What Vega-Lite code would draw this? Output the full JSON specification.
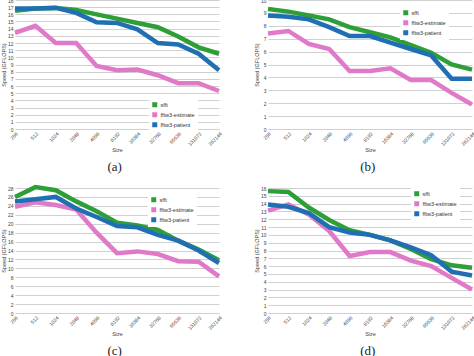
{
  "$schema": "https://vega.github.io/schema/vega-lite/v6.json",
  "background": "white",
  "padding": {"left": 1, "top": -2, "right": 0, "bottom": 0},
  "data": {"values": [
    {"p":"a","s":"sfft","x":256,"y":16.5},{"p":"a","s":"sfft","x":512,"y":16.8},{"p":"a","s":"sfft","x":1024,"y":16.9},{"p":"a","s":"sfft","x":2048,"y":16.6},{"p":"a","s":"sfft","x":4096,"y":16.0},{"p":"a","s":"sfft","x":8192,"y":15.4},{"p":"a","s":"sfft","x":16384,"y":14.8},{"p":"a","s":"sfft","x":32768,"y":14.2},{"p":"a","s":"sfft","x":65536,"y":12.9},{"p":"a","s":"sfft","x":131072,"y":11.4},{"p":"a","s":"sfft","x":262144,"y":10.5},
    {"p":"a","s":"fftw3-estimate","x":256,"y":13.4},{"p":"a","s":"fftw3-estimate","x":512,"y":14.4},{"p":"a","s":"fftw3-estimate","x":1024,"y":12.0},{"p":"a","s":"fftw3-estimate","x":2048,"y":12.0},{"p":"a","s":"fftw3-estimate","x":4096,"y":8.8},{"p":"a","s":"fftw3-estimate","x":8192,"y":8.2},{"p":"a","s":"fftw3-estimate","x":16384,"y":8.3},{"p":"a","s":"fftw3-estimate","x":32768,"y":7.5},{"p":"a","s":"fftw3-estimate","x":65536,"y":6.4},{"p":"a","s":"fftw3-estimate","x":131072,"y":6.4},{"p":"a","s":"fftw3-estimate","x":262144,"y":5.3},
    {"p":"a","s":"fftw3-patient","x":256,"y":16.8},{"p":"a","s":"fftw3-patient","x":512,"y":16.8},{"p":"a","s":"fftw3-patient","x":1024,"y":16.9},{"p":"a","s":"fftw3-patient","x":2048,"y":16.2},{"p":"a","s":"fftw3-patient","x":4096,"y":14.9},{"p":"a","s":"fftw3-patient","x":8192,"y":14.8},{"p":"a","s":"fftw3-patient","x":16384,"y":13.9},{"p":"a","s":"fftw3-patient","x":32768,"y":12.0},{"p":"a","s":"fftw3-patient","x":65536,"y":11.8},{"p":"a","s":"fftw3-patient","x":131072,"y":10.5},{"p":"a","s":"fftw3-patient","x":262144,"y":8.2},
    {"p":"b","s":"sfft","x":256,"y":9.3},{"p":"b","s":"sfft","x":512,"y":9.1},{"p":"b","s":"sfft","x":1024,"y":8.8},{"p":"b","s":"sfft","x":2048,"y":8.5},{"p":"b","s":"sfft","x":4096,"y":7.9},{"p":"b","s":"sfft","x":8192,"y":7.5},{"p":"b","s":"sfft","x":16384,"y":7.1},{"p":"b","s":"sfft","x":32768,"y":6.5},{"p":"b","s":"sfft","x":65536,"y":5.9},{"p":"b","s":"sfft","x":131072,"y":5.0},{"p":"b","s":"sfft","x":262144,"y":4.6},
    {"p":"b","s":"fftw3-estimate","x":256,"y":7.4},{"p":"b","s":"fftw3-estimate","x":512,"y":7.6},{"p":"b","s":"fftw3-estimate","x":1024,"y":6.6},{"p":"b","s":"fftw3-estimate","x":2048,"y":6.2},{"p":"b","s":"fftw3-estimate","x":4096,"y":4.5},{"p":"b","s":"fftw3-estimate","x":8192,"y":4.5},{"p":"b","s":"fftw3-estimate","x":16384,"y":4.7},{"p":"b","s":"fftw3-estimate","x":32768,"y":3.8},{"p":"b","s":"fftw3-estimate","x":65536,"y":3.8},{"p":"b","s":"fftw3-estimate","x":131072,"y":2.8},{"p":"b","s":"fftw3-estimate","x":262144,"y":1.9},
    {"p":"b","s":"fftw3-patient","x":256,"y":8.8},{"p":"b","s":"fftw3-patient","x":512,"y":8.7},{"p":"b","s":"fftw3-patient","x":1024,"y":8.5},{"p":"b","s":"fftw3-patient","x":2048,"y":7.9},{"p":"b","s":"fftw3-patient","x":4096,"y":7.2},{"p":"b","s":"fftw3-patient","x":8192,"y":7.2},{"p":"b","s":"fftw3-patient","x":16384,"y":6.7},{"p":"b","s":"fftw3-patient","x":32768,"y":6.2},{"p":"b","s":"fftw3-patient","x":65536,"y":5.7},{"p":"b","s":"fftw3-patient","x":131072,"y":3.9},{"p":"b","s":"fftw3-patient","x":262144,"y":3.9},
    {"p":"c","s":"sfft","x":256,"y":26.0},{"p":"c","s":"sfft","x":512,"y":28.2},{"p":"c","s":"sfft","x":1024,"y":27.5},{"p":"c","s":"sfft","x":2048,"y":25.0},{"p":"c","s":"sfft","x":4096,"y":22.8},{"p":"c","s":"sfft","x":8192,"y":20.2},{"p":"c","s":"sfft","x":16384,"y":19.6},{"p":"c","s":"sfft","x":32768,"y":18.6},{"p":"c","s":"sfft","x":65536,"y":16.2},{"p":"c","s":"sfft","x":131072,"y":14.2},{"p":"c","s":"sfft","x":262144,"y":11.8},
    {"p":"c","s":"fftw3-estimate","x":256,"y":23.8},{"p":"c","s":"fftw3-estimate","x":512,"y":24.8},{"p":"c","s":"fftw3-estimate","x":1024,"y":24.2},{"p":"c","s":"fftw3-estimate","x":2048,"y":23.2},{"p":"c","s":"fftw3-estimate","x":4096,"y":18.0},{"p":"c","s":"fftw3-estimate","x":8192,"y":13.4},{"p":"c","s":"fftw3-estimate","x":16384,"y":13.8},{"p":"c","s":"fftw3-estimate","x":32768,"y":13.2},{"p":"c","s":"fftw3-estimate","x":65536,"y":11.6},{"p":"c","s":"fftw3-estimate","x":131072,"y":11.5},{"p":"c","s":"fftw3-estimate","x":262144,"y":8.2},
    {"p":"c","s":"fftw3-patient","x":256,"y":25.0},{"p":"c","s":"fftw3-patient","x":512,"y":25.5},{"p":"c","s":"fftw3-patient","x":1024,"y":26.0},{"p":"c","s":"fftw3-patient","x":2048,"y":23.4},{"p":"c","s":"fftw3-patient","x":4096,"y":21.5},{"p":"c","s":"fftw3-patient","x":8192,"y":19.5},{"p":"c","s":"fftw3-patient","x":16384,"y":19.2},{"p":"c","s":"fftw3-patient","x":32768,"y":17.5},{"p":"c","s":"fftw3-patient","x":65536,"y":16.2},{"p":"c","s":"fftw3-patient","x":131072,"y":14.0},{"p":"c","s":"fftw3-patient","x":262144,"y":11.2},
    {"p":"d","s":"sfft","x":256,"y":15.6},{"p":"d","s":"sfft","x":512,"y":15.5},{"p":"d","s":"sfft","x":1024,"y":13.5},{"p":"d","s":"sfft","x":2048,"y":11.9},{"p":"d","s":"sfft","x":4096,"y":10.6},{"p":"d","s":"sfft","x":8192,"y":10.0},{"p":"d","s":"sfft","x":16384,"y":9.3},{"p":"d","s":"sfft","x":32768,"y":8.2},{"p":"d","s":"sfft","x":65536,"y":6.9},{"p":"d","s":"sfft","x":131072,"y":6.1},{"p":"d","s":"sfft","x":262144,"y":5.8},
    {"p":"d","s":"fftw3-estimate","x":256,"y":13.1},{"p":"d","s":"fftw3-estimate","x":512,"y":13.9},{"p":"d","s":"fftw3-estimate","x":1024,"y":12.6},{"p":"d","s":"fftw3-estimate","x":2048,"y":10.5},{"p":"d","s":"fftw3-estimate","x":4096,"y":7.3},{"p":"d","s":"fftw3-estimate","x":8192,"y":7.8},{"p":"d","s":"fftw3-estimate","x":16384,"y":7.8},{"p":"d","s":"fftw3-estimate","x":32768,"y":6.7},{"p":"d","s":"fftw3-estimate","x":65536,"y":6.0},{"p":"d","s":"fftw3-estimate","x":131072,"y":4.5},{"p":"d","s":"fftw3-estimate","x":262144,"y":3.0},
    {"p":"d","s":"fftw3-patient","x":256,"y":13.9},{"p":"d","s":"fftw3-patient","x":512,"y":13.6},{"p":"d","s":"fftw3-patient","x":1024,"y":12.8},{"p":"d","s":"fftw3-patient","x":2048,"y":11.0},{"p":"d","s":"fftw3-patient","x":4096,"y":10.3},{"p":"d","s":"fftw3-patient","x":8192,"y":10.0},{"p":"d","s":"fftw3-patient","x":16384,"y":9.3},{"p":"d","s":"fftw3-patient","x":32768,"y":8.4},{"p":"d","s":"fftw3-patient","x":65536,"y":7.4},{"p":"d","s":"fftw3-patient","x":131072,"y":5.3},{"p":"d","s":"fftw3-patient","x":262144,"y":4.8}
  ]},
  "spacing": 4,
  "resolve": {"scale": {"color": "independent"}, "legend": {"color": "independent"}},
  "vconcat": [
    {
      "spacing": 26,
      "resolve": {"scale": {"color": "independent"}, "legend": {"color": "independent"}},
      "hconcat": [
        {
          "name": "pa",
          "width": 204, "height": 129,
          "title": {"text": "(a)"},
          "transform": [{"filter": "datum.p == 'a'"}],
          "mark": {"type": "line", "strokeWidth": 4.5},
          "encoding": {
            "x": {"field": "x", "type": "ordinal", "scale": {"type": "point", "padding": 0}, "axis": {"title": "Size", "labelAngle": -45}},
            "y": {"field": "y", "type": "quantitative", "scale": {"domain": [0, 18]}, "axis": {"title": "Speed (GFLOPS)", "values": [0,1,2,3,4,5,6,7,8,9,10,11,12,13,14,15,16,17,18]}},
            "color": {"field": "s", "type": "nominal", "scale": {"domain": ["sfft", "fftw3-estimate", "fftw3-patient"], "range": ["#2e9e36", "#e07ac8", "#1f6fb2"]}, "legend": {"orient": "none", "legendX": 134, "legendY": 99, "encode": {"symbols": {"update": {"fill": {"signal": "scale('pa_color', datum.value)"}, "fillOpacity": {"value": 1}}}}}}
          }
        },
        {
          "name": "pb",
          "width": 204, "height": 129,
          "title": {"text": "(b)"},
          "transform": [{"filter": "datum.p == 'b'"}],
          "mark": {"type": "line", "strokeWidth": 4.5},
          "encoding": {
            "x": {"field": "x", "type": "ordinal", "scale": {"type": "point", "padding": 0}, "axis": {"title": "Size", "labelAngle": -45}},
            "y": {"field": "y", "type": "quantitative", "scale": {"domain": [0, 10]}, "axis": {"title": "Speed (GFLOPS)", "values": [0,1,2,3,4,5,6,7,8,9,10]}},
            "color": {"field": "s", "type": "nominal", "scale": {"domain": ["sfft", "fftw3-estimate", "fftw3-patient"], "range": ["#2e9e36", "#e07ac8", "#1f6fb2"]}, "legend": {"orient": "none", "legendX": 132, "legendY": 7, "encode": {"symbols": {"update": {"fill": {"signal": "scale('pb_color', datum.value)"}, "fillOpacity": {"value": 1}}}}}}
          }
        }
      ]
    },
    {
      "spacing": 26,
      "resolve": {"scale": {"color": "independent"}, "legend": {"color": "independent"}},
      "hconcat": [
        {
          "name": "pc",
          "width": 204, "height": 125,
          "title": {"text": "(c)"},
          "transform": [{"filter": "datum.p == 'c'"}],
          "mark": {"type": "line", "strokeWidth": 4.5},
          "encoding": {
            "x": {"field": "x", "type": "ordinal", "scale": {"type": "point", "padding": 0}, "axis": {"title": "Size", "labelAngle": -45}},
            "y": {"field": "y", "type": "quantitative", "scale": {"domain": [0, 28]}, "axis": {"title": "Speed (GFLOPS)", "values": [0,2,4,6,8,10,12,14,16,18,20,22,24,26,28]}},
            "color": {"field": "s", "type": "nominal", "scale": {"domain": ["sfft", "fftw3-estimate", "fftw3-patient"], "range": ["#2e9e36", "#e07ac8", "#1f6fb2"]}, "legend": {"orient": "none", "legendX": 133, "legendY": 6, "encode": {"symbols": {"update": {"fill": {"signal": "scale('pc_color', datum.value)"}, "fillOpacity": {"value": 1}}}}}}
          }
        },
        {
          "name": "pd",
          "width": 204, "height": 125,
          "title": {"text": "(d)"},
          "transform": [{"filter": "datum.p == 'd'"}],
          "mark": {"type": "line", "strokeWidth": 4.5},
          "encoding": {
            "x": {"field": "x", "type": "ordinal", "scale": {"type": "point", "padding": 0}, "axis": {"title": "Size", "labelAngle": -45}},
            "y": {"field": "y", "type": "quantitative", "scale": {"domain": [0, 16]}, "axis": {"title": "Speed (GFLOPS)", "values": [0,1,2,3,4,5,6,7,8,9,10,11,12,13,14,15,16]}},
            "color": {"field": "s", "type": "nominal", "scale": {"domain": ["sfft", "fftw3-estimate", "fftw3-patient"], "range": ["#2e9e36", "#e07ac8", "#1f6fb2"]}, "legend": {"orient": "none", "legendX": 143, "legendY": 0, "encode": {"symbols": {"update": {"fill": {"signal": "scale('pd_color', datum.value)"}, "fillOpacity": {"value": 1}}}}}}
          }
        }
      ]
    }
  ],
  "config": {
    "view": {"stroke": null},
    "axis": {"gridColor": "#d0d0d0", "gridWidth": 1, "domain": false, "ticks": false, "labelFont": "Liberation Sans", "labelFontSize": 5, "labelColor": "#444", "titleFont": "Liberation Sans", "titleFontSize": 5.5, "titleFontWeight": "normal", "titleColor": "#444", "labelPadding": 2, "titlePadding": 1},
    "legend": {"labelFont": "Liberation Sans", "labelFontSize": 5.5, "labelColor": "#333", "symbolType": "square", "symbolSize": 25, "symbolStrokeWidth": 0, "fillColor": "white", "padding": 3, "rowPadding": 3, "title": null, "labelOffset": 3},
    "title": {"orient": "bottom", "font": "Liberation Serif", "fontSize": 13, "fontWeight": "normal", "color": "#222", "frame": "bounds", "offset": 8}
  }
}
